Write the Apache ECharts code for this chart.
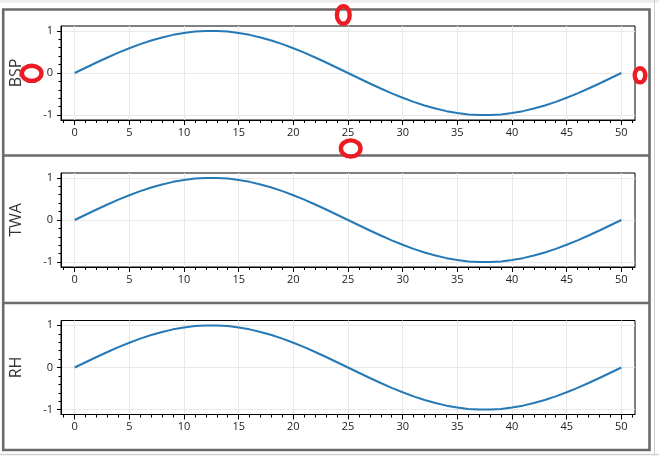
<!DOCTYPE html>
<html>
<head>
<meta charset="utf-8">
<script src="https://cdn.jsdelivr.net/npm/echarts@6/dist/echarts.min.js"></script>
<style>
  html, body { margin: 0; padding: 0; background: #fff; }
  #chart { width: 659px; height: 456px; }
</style>
</head>
<body>
<div id="chart"></div>
<script>
// sample positions (x) and the values
const xValues = [0,1,2,3,4,5,6,7,8,9,10,11,12,13,14,15,16,17,18,19,20,21,22,23,24,25,
  26,27,28,29,30,31,32,33,34,35,36,37,38,39,40,41,42,43,44,45,46,47,48,49,50]
const bspValues = [0,0.125,0.249,0.368,0.482,0.588,0.685,0.771,0.844,0.905,0.951,0.982,0.998,0.998,0.982,0.951,0.905,0.844,0.771,0.685,0.588,0.482,0.368,0.249,0.125,0,
  -0.125,-0.249,-0.368,-0.482,-0.588,-0.685,-0.771,-0.844,-0.905,-0.951,-0.982,-0.998,-0.998,-0.982,-0.951,-0.905,-0.844,-0.771,-0.685,-0.588,-0.482,-0.368,-0.249,-0.125,0]
const twaValues = [0,0.125,0.249,0.368,0.482,0.588,0.685,0.771,0.844,0.905,0.951,0.982,0.998,0.998,0.982,0.951,0.905,0.844,0.771,0.685,0.588,0.482,0.368,0.249,0.125,0,
  -0.125,-0.249,-0.368,-0.482,-0.588,-0.685,-0.771,-0.844,-0.905,-0.951,-0.982,-0.998,-0.998,-0.982,-0.951,-0.905,-0.844,-0.771,-0.685,-0.588,-0.482,-0.368,-0.249,-0.125,0]
const rhValues = [0,0.125,0.249,0.368,0.482,0.588,0.685,0.771,0.844,0.905,0.951,0.982,0.998,0.998,0.982,0.951,0.905,0.844,0.771,0.685,0.588,0.482,0.368,0.249,0.125,0,
  -0.125,-0.249,-0.368,-0.482,-0.588,-0.685,-0.771,-0.844,-0.905,-0.951,-0.982,-0.998,-0.998,-0.982,-0.951,-0.905,-0.844,-0.771,-0.685,-0.588,-0.482,-0.368,-0.249,-0.125,0]

const panelNames = ['BSP', 'TWA', 'RH']
const panelValues = [bspValues, twaValues, rhValues]

// tick labels
const xMajorTicks = [0, 5, 10, 15, 20, 25, 30, 35, 40, 45, 50]
const xMinorTicks = [-1,0,1,2,3,4,5,6,7,8,9,10,11,12,13,14,15,16,17,18,19,20,21,22,23,24,25,
  26,27,28,29,30,31,32,33,34,35,36,37,38,39,40,41,42,43,44,45,46,47,48,49,50,51]
const yMajorTicks = [-1, 0, 1]
const yMinorTicks = [-1, -0.8, -0.6, -0.4, -0.2, 0, 0.2, 0.4, 0.6, 0.8, 1]

const FONT = '"Open Sans", "Noto Sans", sans-serif'
const gridTops = [26, 173, 320.5]
const frameColor = '#6b6b6b'
const ringColor = '#ec1c24'

const chart = echarts.init(document.getElementById('chart'))

const grids = [], xAxes = [], yAxes = [], series = []

gridTops.forEach((top, i) => {
  grids.push({
    left: 60, right: 24, top: top, height: 94,
    show: true, borderColor: '#000', borderWidth: 1, backgroundColor: '#fff'
  })

  // major x axis with labels
  xAxes.push({
    type: 'value', gridIndex: i, position: 'bottom', min: -1.25, max: 51.25,
    axisLine: { show: true, onZero: false, lineStyle: { color: '#000' } },
    axisTick: { show: true, customValues: xMajorTicks, length: 5, lineStyle: { color: '#000' } },
    axisLabel: { customValues: xMajorTicks, margin: 7, color: '#222', fontSize: 11, fontFamily: FONT },
    splitLine: { show: true, lineStyle: { color: '#e8e8e8' } }
  })
  // y axis with labels
  yAxes.push({
    type: 'value', gridIndex: i, position: 'left', min: -1.115, max: 1.115,
    name: panelNames[i], nameLocation: 'middle', nameGap: 37,
    nameTextStyle: { fontSize: 16, color: '#333', fontFamily: FONT },
    axisLine: { show: true, onZero: false, lineStyle: { color: '#000' } },
    axisTick: { show: true, customValues: yMajorTicks, length: 4, lineStyle: { color: '#000' } },
    axisLabel: { customValues: yMajorTicks, margin: 8, color: '#222', fontSize: 11, fontFamily: FONT },
    splitLine: { show: true, lineStyle: { color: '#e8e8e8' } }
  })
})

// minor tick axes, laid over the main ones
gridTops.forEach((top, i) => {
  xAxes.push({
    type: 'value', gridIndex: i, position: 'bottom', min: -1.25, max: 51.25,
    axisLine: { show: false, onZero: false },
    axisTick: { show: true, customValues: xMinorTicks, length: 3, lineStyle: { color: '#000' } },
    axisLabel: { show: false },
    splitLine: { show: false }
  })
  yAxes.push({
    type: 'value', gridIndex: i, position: 'left', min: -1.115, max: 1.115,
    axisLine: { show: false, onZero: false },
    axisTick: { show: true, customValues: yMinorTicks, length: 2.5, lineStyle: { color: '#000' } },
    axisLabel: { show: false },
    splitLine: { show: false }
  })
})

panelValues.forEach((vals, i) => {
  series.push({
    type: 'line', xAxisIndex: i, yAxisIndex: i,
    data: xValues.map((x, k) => [x, vals[k]]),
    showSymbol: false, smooth: false, silent: true,
    lineStyle: { color: '#2679b7', width: 2 }
  })
})

// frame around the three panels, plus the red marks
const graphic = [
  { type: 'rect', shape: { x: 0, y: 0, width: 659, height: 2.5 }, style: { fill: '#ececec' } },
  { type: 'line', shape: { x1: 654.5, y1: 0, x2: 654.5, y2: 456 }, style: { stroke: '#d2d2d2', lineWidth: 1 } },
  { type: 'line', shape: { x1: 0, y1: 454.5, x2: 659, y2: 454.5 }, style: { stroke: '#d2d2d2', lineWidth: 1.5 } },
  { type: 'rect', shape: { x: 3.2, y: 9.5, width: 646.3, height: 440.5 }, style: { fill: 'none', stroke: frameColor, lineWidth: 2.6 } },
  { type: 'line', shape: { x1: 3, y1: 155.5, x2: 650, y2: 155.5 }, style: { stroke: frameColor, lineWidth: 2.6 } },
  { type: 'line', shape: { x1: 3, y1: 303, x2: 650, y2: 303 }, style: { stroke: frameColor, lineWidth: 2.6 } },
  { type: 'ellipse', z: 100, shape: { cx: 31.7, cy: 73.3, rx: 9.8, ry: 7.6 }, style: { fill: 'none', stroke: ringColor, lineWidth: 4.4 } },
  { type: 'ellipse', z: 100, shape: { cx: 343.3, cy: 15, rx: 6.4, ry: 8.8 }, style: { fill: 'none', stroke: ringColor, lineWidth: 4.4 } },
  { type: 'ellipse', z: 100, shape: { cx: 640, cy: 75.3, rx: 5.3, ry: 7.1 }, style: { fill: 'none', stroke: ringColor, lineWidth: 4.4 } },
  { type: 'ellipse', z: 100, shape: { cx: 350.7, cy: 148.5, rx: 9.8, ry: 8.1 }, style: { fill: 'none', stroke: ringColor, lineWidth: 4.4 } }
]

chart.setOption({
  animation: false,
  backgroundColor: '#fff',
  grid: grids,
  xAxis: xAxes,
  yAxis: yAxes,
  series: series,
  graphic: graphic
})
</script>
</body>
</html>
